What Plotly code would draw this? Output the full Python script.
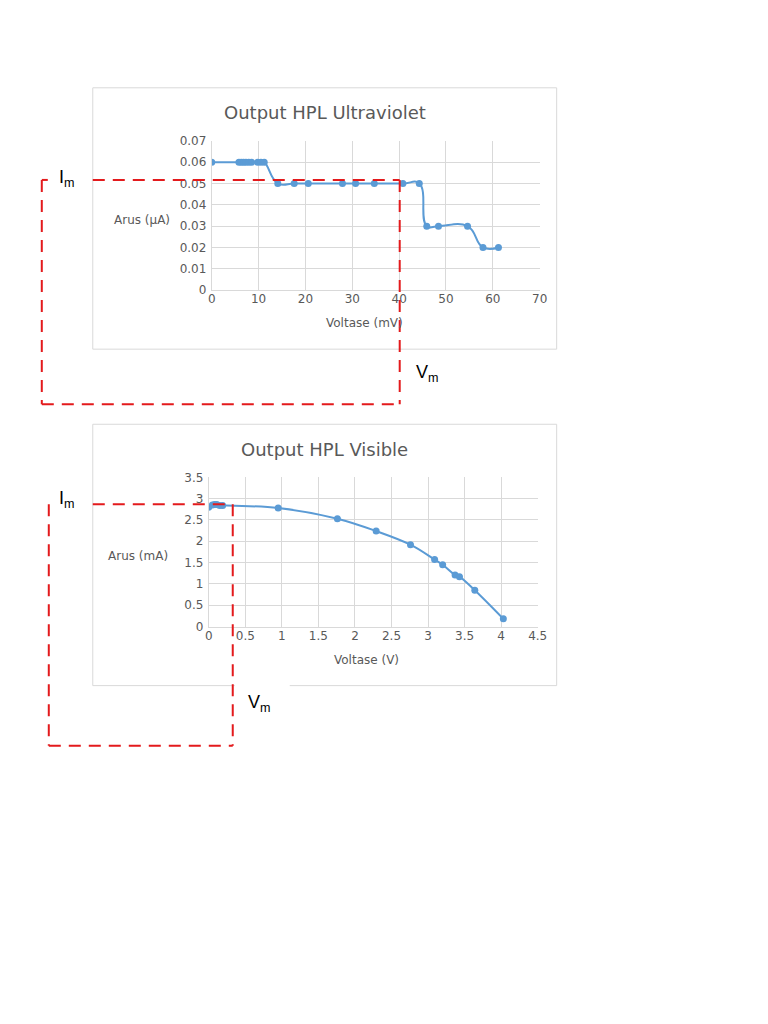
import plotly.graph_objects as go

# ---- data ----
uv_voltage_mv = [0, 5.8, 6.3, 6.8, 7.3, 7.9, 8.5, 9.8, 10.5, 11.2, 14.1, 17.6, 20.6, 27.9, 30.7, 34.7, 40.8, 44.3, 45.9, 48.4, 54.6, 57.9, 61.2]
uv_current_ua = [0.06, 0.06, 0.06, 0.06, 0.06, 0.06, 0.06, 0.06, 0.06, 0.06, 0.05, 0.05, 0.05, 0.05, 0.05, 0.05, 0.05, 0.05, 0.03, 0.03, 0.03, 0.02, 0.02]

vis_voltage_v = [0.0, 0.05, 0.08, 0.11, 0.15, 0.19, 0.95, 1.76, 2.29, 2.76, 3.09, 3.20, 3.37, 3.43, 3.64, 4.03]
vis_current_ma = [2.80, 2.85, 2.86, 2.86, 2.84, 2.84, 2.78, 2.53, 2.24, 1.92, 1.57, 1.45, 1.21, 1.17, 0.85, 0.18]

uv_title = "Output HPL Ultraviolet"
vis_title = "Output HPL Visible"
uv_xlabel, uv_ylabel = "Voltase (mV)", "Arus (µA)"
vis_xlabel, vis_ylabel = "Voltase (V)", "Arus (mA)"
uv_xticks = [0, 10, 20, 30, 40, 50, 60, 70]
uv_yticks = [0, 0.01, 0.02, 0.03, 0.04, 0.05, 0.06, 0.07]
vis_xticks = [0, 0.5, 1, 1.5, 2, 2.5, 3, 3.5, 4, 4.5]
vis_yticks = [0, 0.5, 1, 1.5, 2, 2.5, 3, 3.5]

W, H = 768, 1024
# page-pixel -> paper fraction (small correction for the rendering scale observed)
def px(x): return ((x - 4.2) / 0.982) / W
def py(y): return 1 - ((y - 7.3) / 0.985) / H

BLUE = "#5b9bd5"
GREY = "#595959"
GRID = "#d9d9d9"
RED = "#e31a1c"
FONT = "DejaVu Sans"

fig = go.Figure()
fig.add_trace(go.Scatter(x=uv_voltage_mv, y=uv_current_ua, mode="lines+markers",
                         line=dict(color=BLUE, width=2, shape="spline", smoothing=1.3),
                         marker=dict(color=BLUE, size=7), xaxis="x", yaxis="y", showlegend=False))
fig.add_trace(go.Scatter(x=vis_voltage_v, y=vis_current_ma, mode="lines+markers",
                         line=dict(color=BLUE, width=2, shape="spline", smoothing=1),
                         marker=dict(color=BLUE, size=7), xaxis="x2", yaxis="y2", showlegend=False))

axcommon = dict(showgrid=True, gridcolor=GRID, gridwidth=1, zeroline=False, showline=True,
                linecolor=GRID, linewidth=1, ticks="", tickfont=dict(family=FONT, size=12, color=GREY),
                mirror=False)
xstand = dict(ticklabelstandoff=-2)
ystand = dict(ticklabelstandoff=2)

fig.update_layout(
    autosize=True, margin=dict(l=0, r=0, t=0, b=0),
    paper_bgcolor="white", plot_bgcolor="white", showlegend=False,
    xaxis=dict(domain=[px(212), px(540)], range=[0, 70], tickvals=uv_xticks,
               ticktext=[("%g" % v) for v in uv_xticks], anchor="y", **axcommon, **xstand),
    yaxis=dict(domain=[py(290), py(141)], range=[0, 0.07], tickvals=uv_yticks,
               ticktext=[("%g" % v) for v in uv_yticks], anchor="x", **axcommon, **ystand),
    xaxis2=dict(domain=[px(209), px(538)], range=[0, 4.5], tickvals=vis_xticks,
                ticktext=[("%g" % v) for v in vis_xticks], anchor="y2", **axcommon, **xstand),
    yaxis2=dict(domain=[py(626), py(477)], range=[0, 3.5], tickvals=vis_yticks,
                ticktext=[("%g" % v) for v in vis_yticks], anchor="x2", **axcommon, **ystand),
)

shapes = []
# chart boxes
for (x0, y0, x1, y1) in [(93, 88, 557, 349), (93, 424, 557, 685)]:
    shapes.append(dict(type="rect", xref="paper", yref="paper", x0=px(x0), x1=px(x1), y0=py(y1), y1=py(y0),
                       line=dict(color=GRID, width=1), fillcolor="rgba(0,0,0,0)", layer="below"))
# white patch behind lower Vm label
shapes.append(dict(type="rect", xref="paper", yref="paper", x0=px(235), x1=px(290), y0=py(720), y1=py(682),
                   line=dict(width=0), fillcolor="white", layer="above"))

def dline(x0, y0, x1, y1):
    shapes.append(dict(type="line", xref="paper", yref="paper", x0=px(x0), y0=py(y0), x1=px(x1), y1=py(y1),
                       line=dict(color=RED, width=2, dash="12px,8px"), layer="above"))

# top red dashed box
dline(93, 180, 400, 180)
dline(42, 180, 48, 180)
dline(400, 180, 400, 404)
dline(42, 404, 400, 404)
dline(42, 180, 42, 404)
# bottom red dashed box
dline(93, 504, 233, 504)
dline(49, 504, 49, 745)
dline(233, 504, 233, 745)
dline(49, 745, 233, 745)
fig.update_layout(shapes=shapes)

ann = []
def text(x, y, s, size, color=GREY, family=FONT):
    ann.append(dict(x=px(x), y=py(y), xref="paper", yref="paper", text=s, showarrow=False,
                    xanchor="center", yanchor="middle", font=dict(family=family, size=size, color=color)))

text(325, 113, uv_title, 18)
text(142, 220, uv_ylabel, 12)
text(365, 323, uv_xlabel, 12)
text(325, 449, vis_title, 18)
text(138, 556, vis_ylabel, 12)
text(367, 659, vis_xlabel, 12)
text(67, 179, "I<sub>m</sub>", 18, "#000000", "Liberation Sans")
text(428, 373, "V<sub>m</sub>", 18, "#000000", "Liberation Sans")
text(67, 499, "I<sub>m</sub>", 18, "#000000", "Liberation Sans")
text(260, 703, "V<sub>m</sub>", 18, "#000000", "Liberation Sans")
fig.update_layout(annotations=ann)

post = ("document.documentElement.style.margin='0';document.body.style.margin='0';"
        "document.body.style.overflow='hidden';document.documentElement.style.overflow='hidden';"
        "var gd=document.getElementById('{plot_id}');Plotly.Plots.resize(gd);")
fig.write_html("out.html", default_width="100vw", default_height="100vh",
               config={"displayModeBar": False, "responsive": True}, post_script=post)
